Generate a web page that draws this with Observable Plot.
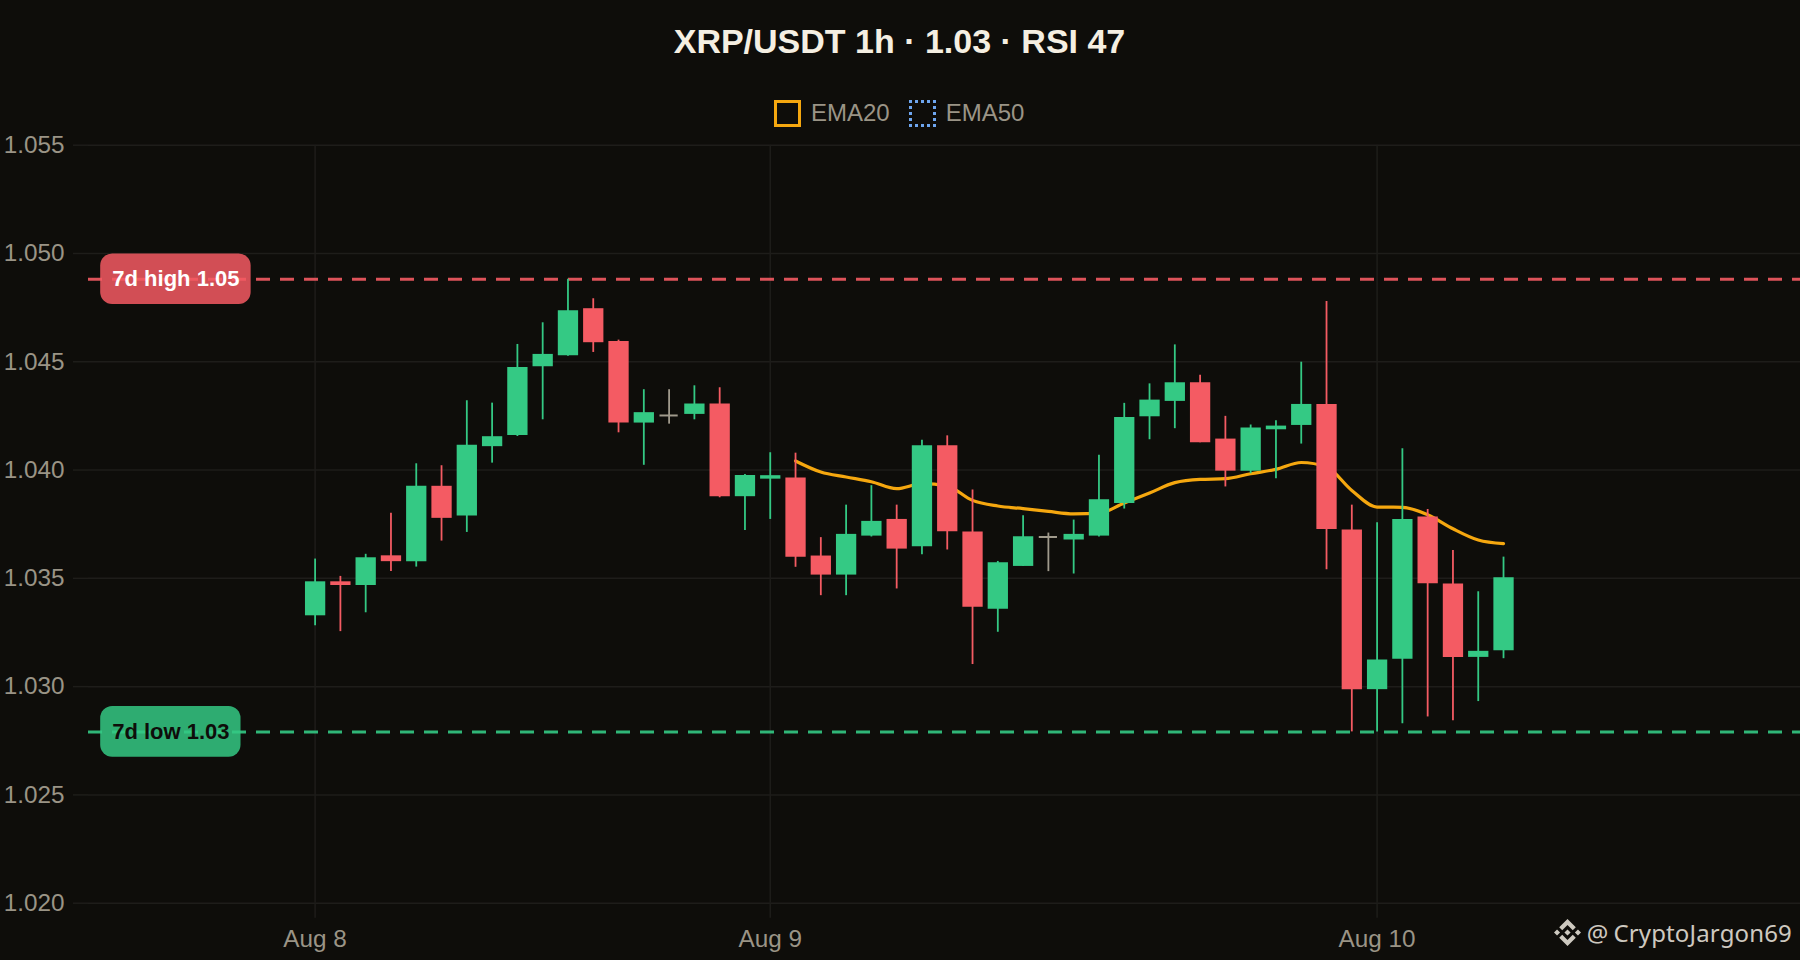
<!DOCTYPE html>
<html>
<head>
<meta charset="utf-8">
<script src="https://cdn.jsdelivr.net/npm/d3@7"></script>
<script src="https://cdn.jsdelivr.net/npm/@observablehq/plot@0.6"></script>
<style>
  html, body { margin: 0; padding: 0; background: #0e0d0a; width: 1800px; height: 960px; overflow: hidden; }
  body { position: relative; font-family: "Liberation Sans", sans-serif; }
  #head { position: relative; height: 130px; }
  #title { position: absolute; left: 0; right: 0; top: 21px; line-height: 40px; text-align: center; font-size: 34px; font-weight: 700; color: #f5efe2; padding-right: 1px; }
  #legend { position: absolute; left: 774px; top: 99px; display: flex; align-items: center; height: 28px; font-size: 24px; color: #9a9486; }
  .sw { box-sizing: border-box; width: 27px; height: 27px; margin-right: 10px; }
  #legend span.t { margin-right: 19px; }
  #mark { position: absolute; right: 8px; top: 914px; display: flex; align-items: center; height: 36px; font-family: "Noto Sans", sans-serif; font-size: 24px; letter-spacing: .15px; color: #e2ded4; opacity: .9; }
  #mark svg { width: 27px; height: 27px; margin-right: 6px; fill: #e2ded4; }
  #mark .at { margin-right: 5px; }
  svg.chart { display: block; }
</style>
</head>
<body>
<div id="head">
  <div id="title">XRP/USDT 1h · 1.03 · RSI 47</div>
  <div id="legend">
    <div class="sw" style="border:3.5px solid #f5a70f"></div><span class="t">EMA20</span>
    <div class="sw" style="border:3px dotted #6ea6f0"></div><span>EMA50</span>
  </div>
</div>
<div id="chart"></div>
<div id="mark"><svg viewBox="6 6 20 20"><path d="M12.116 14.404L16 10.52l3.886 3.886 2.26-2.26L16 6l-6.144 6.144 2.26 2.26zM6 16l2.26-2.26L10.52 16l-2.26 2.26L6 16zm6.116 1.596L16 21.48l3.886-3.886 2.26 2.259L16 26l-6.144-6.144-.003-.003 2.263-2.257zM21.48 16l2.26-2.26L26 16l-2.26 2.26L21.48 16zm-3.188-.002h.002V16L16 18.294l-2.291-2.29-.004-.004.004-.003.401-.402.195-.195L16 13.706l2.293 2.293z"/></svg><span class="at">@</span><span>CryptoJargon69</span></div>
<script>
const opens  = [1.03327,1.03484,1.03467,1.03604,1.03577,1.03925,1.03788,1.04108,1.04159,1.04477,1.04528,1.04745,1.04594,1.04217,1.04252,1.04257,1.04305,1.03877,1.03958,1.03963,1.03603,1.03515,1.03695,1.03772,1.03646,1.04112,1.03714,1.03357,1.03555,1.03691,1.03677,1.03695,1.03846,1.04246,1.04317,1.04403,1.04143,1.03995,1.04186,1.04206,1.04303,1.03723,1.02986,1.03126,1.03783,1.03474,1.03135,1.03166];
const closes = [1.03484,1.03467,1.03595,1.03577,1.03925,1.03777,1.04114,1.04154,1.04474,1.04534,1.04736,1.04588,1.04217,1.04265,1.04252,1.04305,1.03877,1.03975,1.03974,1.03597,1.03515,1.03703,1.03763,1.03635,1.04112,1.03715,1.03366,1.03572,1.03692,1.03691,1.03703,1.03863,1.04243,1.04323,1.04403,1.04126,1.03995,1.04194,1.04203,1.04303,1.03726,1.02986,1.03123,1.03772,1.03475,1.03135,1.03163,1.03503];
const highs  = [1.03589,1.03509,1.03611,1.038,1.04029,1.0402,1.0432,1.04309,1.0458,1.0468,1.04881,1.04791,1.046,1.04371,1.04371,1.04389,1.0438,1.0398,1.0408,1.04078,1.03688,1.03838,1.03928,1.03838,1.04138,1.04158,1.03908,1.03578,1.03789,1.03709,1.03769,1.04068,1.04308,1.04398,1.04578,1.04438,1.04248,1.04208,1.04228,1.04498,1.04778,1.03838,1.03757,1.04098,1.03818,1.03628,1.03438,1.03598];
const lows   = [1.03281,1.03254,1.03341,1.03532,1.03552,1.03672,1.03712,1.04032,1.04155,1.04232,1.04525,1.04543,1.04172,1.04022,1.04212,1.04232,1.03872,1.03721,1.03772,1.03551,1.0342,1.0342,1.03691,1.03451,1.03609,1.03631,1.03102,1.03251,1.03555,1.03531,1.0352,1.03691,1.0382,1.0414,1.04191,1.04126,1.03922,1.03983,1.0396,1.0412,1.0354,1.02791,1.02791,1.02829,1.0286,1.02842,1.02931,1.03129];
const ema20  = [null,null,null,null,null,null,null,null,null,null,null,null,null,null,null,null,null,null,null,1.04042,1.03991,1.03968,1.03946,1.03914,1.03937,1.03926,1.0386,1.03834,1.03822,1.03809,1.03798,1.038,1.03848,1.03894,1.03942,1.03957,1.0396,1.03983,1.04003,1.04035,1.04014,1.03906,1.03829,1.03828,1.03794,1.03729,1.03677,1.0366];
const yTicks = [1.02,1.025,1.03,1.035,1.04,1.045,1.05,1.055];
const xTickIndex = [0,18,42];
const high7d = 1.04881, low7d = 1.02791;
const labels7d = [
  {text:"7d high 1.05", value:high7d, box:"#f45b63", ink:"#ffffff", line:"#f45b63", end:-2.53},
  {text:"7d low 1.03",  value:low7d,  box:"#34c984", ink:"#0e0d0a", line:"#34c984", end:-2.93}
];

const C = {up:"#34c984", down:"#f45b63", flat:"#a09a8c", grid:"#1e1d1a", axis:"#9a9486", ema:"#f5a70f"};
const start = new Date(Date.UTC(2025,7,8,6));
const at = h => new Date(+start + h*3600e3);
const rows = opens.map((o,i)=>({t:at(i),o,c:closes[i],h:highs[i],l:lows[i],e:ema20[i],
  col:closes[i]>o?C.up:closes[i]<o?C.down:C.flat}));
const solid = rows.filter(d=>d.o!==d.c), flat = rows.filter(d=>d.o===d.c);
const xTicks = xTickIndex.map(at);
const font = '"Liberation Sans", sans-serif';

const chart = Plot.plot({
  width:1800, height:830,
  marginLeft:88, marginRight:0, marginTop:14.7, marginBottom:57.3,
  style:{background:"transparent", fontFamily:font},
  x:{type:"utc", domain:[at(-8.962), at(58.745)]},
  y:{domain:[1.02,1.055]},
  marks:[
    Plot.gridY(yTicks,{stroke:C.grid,strokeOpacity:1,strokeWidth:1.5}),
    Plot.gridX(xTicks,{stroke:C.grid,strokeOpacity:1,strokeWidth:1.5}),
    Plot.axisY(yTicks,{anchor:"left",tickSize:15,tickPadding:9,stroke:C.grid,strokeWidth:1.5,fill:C.axis,fontSize:24.3,tickFormat:d3.format(".3f"),label:null}),
    Plot.axisX(xTicks,{anchor:"bottom",tickSize:15,tickPadding:12,stroke:C.grid,strokeWidth:1.5,fill:C.axis,fontSize:24.3,tickFormat:d3.utcFormat("%b %-d"),label:null}),
    Plot.ruleY(labels7d,{y:"value",stroke:"line",strokeOpacity:.9,strokeWidth:3,strokeDasharray:"14 10"}),
    Plot.line(rows,{x:"t",y:"e",stroke:C.ema,strokeWidth:3.2,curve:"monotone-x"}),
    Plot.ruleX(rows,{x:"t",y1:"l",y2:"h",stroke:"col",strokeWidth:1.8}),
    Plot.ruleX(solid,{x:"t",y1:"o",y2:"c",stroke:"col",strokeWidth:20.3}),
    Plot.ruleY(flat,{x1:d=>at(rows.indexOf(d)-.36),x2:d=>at(rows.indexOf(d)+.36),y:"c",stroke:"col",strokeWidth:2}),
    Plot.rect(labels7d,{x1:()=>at(-8.48),x2:d=>at(d.end),y1:d=>d.value-.00117,y2:d=>d.value+.00117,fill:"box",fillOpacity:.85,rx:12}),
    Plot.text(labels7d,{x:d=>at((-8.48+d.end)/2),y:"value",text:"text",fill:"ink",fontSize:22,fontWeight:700})
  ]
});
chart.classList.add("chart");
document.getElementById("chart").append(chart);
</script>
</body>
</html>
